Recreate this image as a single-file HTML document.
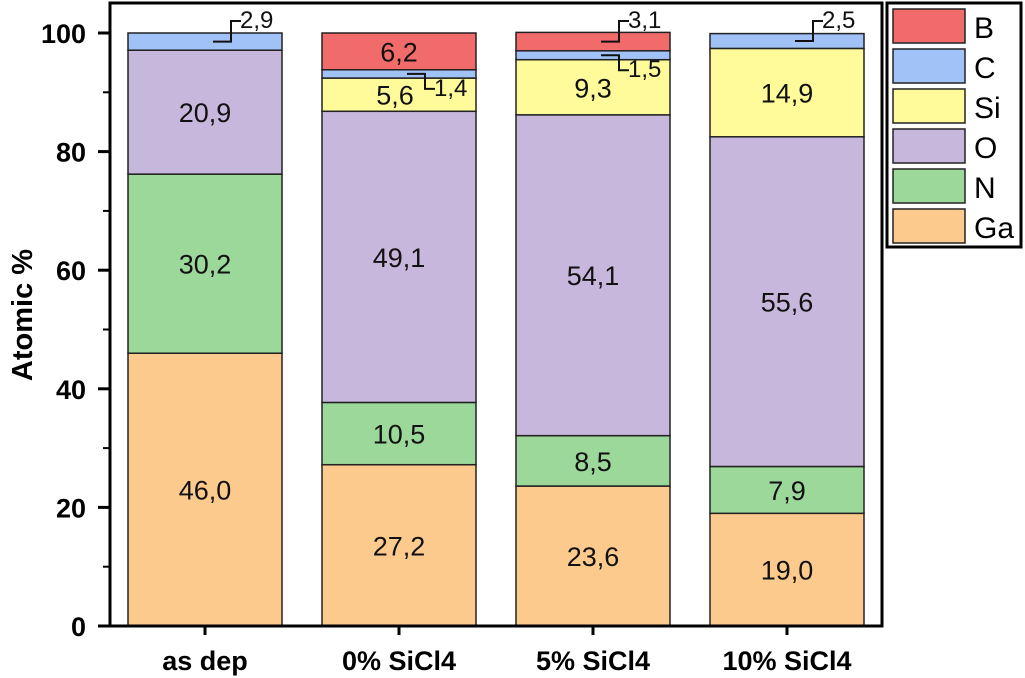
<!DOCTYPE html>
<html><head><meta charset="utf-8"><style>
body{margin:0;background:#fff}
svg{display:block;font-family:"Liberation Sans",Arial,sans-serif}
</style></head><body>
<svg id="chart" width="1025" height="678">
<rect x="0" y="0" width="1025" height="678" fill="#fff"/>
<g id="bars"></g>
<g id="axes"></g>
<g id="legend"></g>
</svg>
<script>
const categories = ["as dep", "0% SiCl4", "5% SiCl4", "10% SiCl4"];
const elements = ["Ga", "N", "O", "Si", "C", "B"];
const gaValues = [46.0, 27.2, 23.6, 19.0];
const nValues = [30.2, 10.5, 8.5, 7.9];
const oValues = [20.9, 49.1, 54.1, 55.6];
const siValues = [0, 5.6, 9.3, 14.9];
const cValues = [2.9, 1.4, 1.5, 2.5];
const bValues = [0, 6.2, 3.1, 0];
const yTicks = [0, 20, 40, 60, 80, 100];
const legendOrder = ["B", "C", "Si", "O", "N", "Ga"];

const colors = {Ga:"#fdca8e", N:"#9dd89b", O:"#c7b7dc", Si:"#fffb9b", C:"#a1c2f6", B:"#f26b6b"};
const series = {Ga:gaValues, N:nValues, O:oValues, Si:siValues, C:cValues, B:bValues};
const NS = "http://www.w3.org/2000/svg";
const L = 110, R = 882, T = 3, B0 = 626;
const yScale = v => B0 - v * 5.93;
const xCenter = i => 205 + i * 194;
const barW = 154;
function mk(tag, attrs, parent, text){
  const e = document.createElementNS(NS, tag);
  for (const k in attrs) e.setAttribute(k, attrs[k]);
  if (text !== undefined) e.textContent = text;
  parent.appendChild(e); return e;
}
const fmt = v => v.toFixed(1).replace(".", ",");
const gBars = document.getElementById("bars");
categories.forEach((c, i) => {
  let cum = 0;
  const x0 = xCenter(i) - barW / 2;
  elements.forEach(el => {
    const v = series[el][i];
    if (v <= 0) return;
    const y1 = yScale(cum), y2 = yScale(cum + v);
    const r = mk("rect", {x:x0, y:y2, width:barW, height:y1 - y2, fill:colors[el], stroke:"#222", "stroke-width":1.5}, gBars);
    
    
    const mid = (y1 + y2) / 2;
    const cx = xCenter(i);
    let t;
    if (v >= 4) {
      const dx = (el === "Si" && v < 7) ? -4 : 0;
      t = mk("text", {x:cx + dx, y:mid + 10, "text-anchor":"middle", "font-size":27, fill:"#111"}, gBars, fmt(v));
    } else {
      const sx = cx + 8, jx = cx + 26;
      const goDown = (el === "C" && series.B[i] > 0);
      const ty = goDown ? mid + 15 : 21;
      mk("polyline", {points:`${sx},${mid} ${jx},${mid} ${jx},${ty} ${jx+10},${ty}`, fill:"none", stroke:"#111", "stroke-width":2}, gBars);
      t = mk("text", {x:jx + 9, y:ty + 7, "font-size":24, fill:"#111"}, gBars, fmt(v));
    }
    
    
    cum += v;
  });
});
const gA = document.getElementById("axes");
const frame = mk("rect", {x:L, y:T, width:R - L, height:B0 - T, fill:"none", stroke:"#000", "stroke-width":3}, gA);


yTicks.forEach(v => {
  const y = yScale(v);
  mk("line", {x1:L - 12, x2:L, y1:y, y2:y, stroke:"#000", "stroke-width":3}, gA);
  const t = mk("text", {x:86, y:y + 10, "text-anchor":"end", "font-size":27, "font-weight":"bold"}, gA, String(v));
  
  
  if (v < 100) { const ym = yScale(v + 10); mk("line", {x1:L - 7, x2:L, y1:ym, y2:ym, stroke:"#000", "stroke-width":2}, gA); }
});
categories.forEach((c, i) => {
  const x = xCenter(i);
  mk("line", {x1:x, x2:x, y1:B0, y2:B0 + 9, stroke:"#000", "stroke-width":3}, gA);
  const t = mk("text", {x:x, y:670, "text-anchor":"middle", "font-size":27, "font-weight":"bold"}, gA, c);
  
  
});
const yt = mk("text", {x:0, y:0, transform:"translate(32,315) rotate(-90)", "text-anchor":"middle", "font-size":29, "font-weight":"bold"}, gA, "Atomic %");


const gL = document.getElementById("legend");
const lb = mk("rect", {x:887, y:3, width:134, height:244, fill:"#fff", stroke:"#000", "stroke-width":3}, gL);


legendOrder.forEach((el, k) => {
  const y = 9 + k * 40;
  const g = mk("g", {}, gL);
  
  
  mk("rect", {x:893, y:y, width:72, height:34, fill:colors[el], stroke:"#222", "stroke-width":1.5}, g);
  mk("text", {x:974, y:y + 29, "font-size":30}, g, el);
});
</script>
</body></html>
